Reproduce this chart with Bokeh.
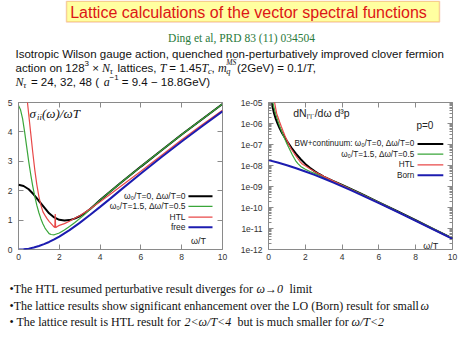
from bokeh.plotting import figure
from bokeh.layouts import column, row
from bokeh.models import (Range1d, FixedTicker, CustomJSTickFormatter, Label,
                          LinearAxis, BoxAnnotation, CustomLabelingPolicy)
from bokeh.embed import file_html
from bokeh.resources import INLINE

# ---------------- data: left panel  sigma_ii(omega)/(omega T) ----------------
x_black = [0, 0.25, 0.5, 0.75, 1.0, 1.25, 1.5, 1.75, 2.0, 2.25, 2.5, 2.75, 3.0,
           3.25, 3.5, 3.75, 4.0, 4.5, 5, 5.5, 6, 7, 8, 9, 10]
s_black = [2.20, 2.16, 2.05, 1.87, 1.65, 1.44, 1.23, 1.09, 1.01, 0.99, 1.00, 1.05, 1.13,
           1.24, 1.37, 1.52, 1.68, 1.97, 2.26, 2.54, 2.82, 3.37, 3.91, 4.43, 4.95]

x_green = [0, 0.1, 0.2, 0.3, 0.4, 0.5, 0.6, 0.7, 0.8, 0.9, 1.0, 1.1, 1.2, 1.3, 1.4,
           1.5, 1.6, 1.75, 2.0, 2.25, 2.5, 2.75, 3.0, 3.25, 3.5, 3.75, 4.0, 4.5, 5,
           5.5, 6, 7, 8, 9, 10]
s_green = [4.90, 4.75, 4.45, 4.00, 3.50, 3.00, 2.55, 2.15, 1.80, 1.50, 1.25, 1.04, 0.87,
           0.73, 0.63, 0.54, 0.51, 0.50, 0.56, 0.66, 0.78, 0.91, 1.05, 1.20, 1.36, 1.52,
           1.68, 1.97, 2.26, 2.54, 2.82, 3.37, 3.91, 4.43, 4.95]

x_htl = [0.3, 0.35, 0.4, 0.44, 0.5, 0.6, 0.7, 0.8, 0.9, 1.0, 1.1, 1.2, 1.3, 1.4, 1.5,
         1.6, 1.7, 1.78, 1.80, 1.82, 1.9, 2.0, 2.25, 2.5, 2.75, 3.0, 3.5, 4.0, 4.5, 5,
         6, 7, 8, 9, 10]
s_htl = [10.0, 8.0, 6.2, 5.0, 4.6, 3.95, 3.3, 2.7, 2.2, 1.8, 1.5, 1.28, 1.16, 1.05, 0.96,
         0.88, 0.80, 0.75, 1.21, 0.74, 0.78, 0.82, 0.88, 0.96, 1.06, 1.15, 1.38, 1.62,
         1.88, 2.14, 2.66, 3.20, 3.73, 4.24, 4.74]

x_free = [0, 0.25, 0.5, 0.75, 1.0, 1.25, 1.5, 1.75, 2.0, 2.5, 3.0, 3.5, 4.0, 4.5, 5,
          6, 7, 8, 9, 10]
s_free = [0, 0.007, 0.030, 0.067, 0.117, 0.181, 0.256, 0.343, 0.44, 0.66, 0.907, 1.173,
          1.45, 1.73, 2.02, 2.585, 3.137, 3.671, 4.19, 4.70]

# ---------------- data: right panel  dN/dω d^3p ----------------
xr_black = [0.15, 0.2, 0.3, 0.4, 0.5, 0.6, 0.75, 1.0, 1.25, 1.5, 1.75, 2.0, 2.25, 2.5,
            2.75, 3.0, 3.5, 4.0, 4.5, 5, 6, 7, 8, 9, 10]
r_black = [1.36e-5, 7.43e-6, 3.08e-6, 1.61e-6, 9.54e-7, 6.06e-7, 3.37e-7, 1.45e-7,
           6.98e-8, 3.56e-8, 1.98e-8, 1.19e-8, 7.83e-9, 5.40e-9, 3.94e-9, 2.98e-9,
           1.84e-9, 1.18e-9, 7.43e-10, 4.63e-10, 1.76e-10, 6.64e-11, 2.48e-11,
           9.17e-12, 3.39e-12]

xr_green = [0.2, 0.25, 0.3, 0.4, 0.5, 0.6, 0.7, 0.8, 0.9, 1.0, 1.1, 1.2, 1.3, 1.4, 1.5,
            1.6, 1.75, 2.0, 2.25, 2.5, 2.75, 3.0, 3.5, 4.0, 4.5, 5, 6, 7, 8, 9, 10]
r_green = [1.52e-5, 9.0e-6, 5.75e-6, 2.69e-6, 1.40e-6, 7.81e-7, 4.58e-7, 2.77e-7,
           1.72e-7, 1.10e-7, 7.12e-8, 4.72e-8, 3.18e-8, 2.22e-8, 1.56e-8, 1.22e-8,
           9.07e-9, 6.62e-9, 5.22e-9, 4.21e-9, 3.41e-9, 2.77e-9, 1.83e-9, 1.18e-9,
           7.43e-10, 4.63e-10, 1.76e-10, 6.64e-11, 2.48e-11, 9.17e-12, 3.39e-12]

xr_htl = [0.3, 0.35, 0.4, 0.44, 0.5, 0.6, 0.7, 0.8, 0.9, 1.0, 1.1, 1.2, 1.3, 1.4, 1.5,
          1.6, 1.7, 1.8, 1.9, 2.0, 2.25, 2.5, 2.75, 3.0, 3.5, 4.0, 5, 6, 7, 8, 9, 10]
r_htl = [1.44e-5, 8.24e-6, 4.76e-6, 3.10e-6, 2.14e-6, 1.21e-6, 7.02e-7, 4.16e-7,
         2.53e-7, 1.58e-7, 1.03e-7, 6.94e-8, 5.05e-8, 3.71e-8, 2.78e-8, 2.10e-8,
         1.59e-8, 1.25e-8, 1.09e-8, 9.69e-9, 6.96e-9, 5.18e-9, 3.97e-9, 3.03e-9,
         1.85e-9, 1.14e-9, 4.38e-10, 1.66e-10, 6.30e-11, 2.36e-11, 8.78e-12, 3.25e-12]

xr_born = [0, 0.5, 1, 1.5, 2, 2.5, 3, 3.5, 4, 4.5, 5, 6, 7, 8, 9, 10]
r_born = [1.8e-8, 1.38e-8, 1.03e-8, 7.41e-9, 5.21e-9, 3.57e-9, 2.40e-9, 1.58e-9,
          1.02e-9, 6.55e-10, 4.14e-10, 1.62e-10, 6.19e-11, 2.33e-11, 8.69e-12, 3.22e-12]

left_labels = ["ω₀/T=0, Δω/T=0", "ω₀/T=1.5, Δω/T=0.5", "HTL", "free"]
right_labels = ["BW+continuum: ω₀/T=0, Δω/T=0", "ω₀/T=1.5, Δω/T=0.5", "HTL", "Born"]
x_ticks = [0, 2, 4, 6, 8, 10]
y_ticks_lin = [0, 1, 2, 3, 4, 5]
y_ticks_log = [1e-12, 1e-11, 1e-10, 1e-9, 1e-8, 1e-7, 1e-6, 1e-5]

# ---------------- styles ----------------
SANS = "Liberation Sans"
SERIF = "Liberation Serif"
C_BLACK, C_GREEN, C_RED, C_BLUE = "#000000", "#3aa63a", "#e84848", "#1c1cb0"
COLORS = [C_BLACK, C_GREEN, C_RED, C_BLUE]
WIDTHS = [2.0, 1.2, 1.2, 2.0]
FRAME = "#8a8a8a"


def lab(fig, x, y, text, size, font=SANS, style="normal", color="#111111",
        align="left", baseline="middle", xo=0, yo=0):
    fig.add_layout(Label(x=x, y=y, text=text, text_font=font,
                         text_font_size=f"{size}px", text_font_style=style,
                         text_color=color, text_align=align,
                         text_baseline=baseline, x_offset=xo, y_offset=yo))


def style_axes(fig, xt, yt, minor_y=None):
    fig.xgrid.visible = False
    fig.ygrid.visible = False
    fig.outline_line_color = FRAME
    fig.outline_line_width = 1
    for ax in (fig.xaxis, fig.yaxis):
        ax.axis_line_color = None
        ax.major_tick_in = 5
        ax.major_tick_out = 0
        ax.minor_tick_out = 0
        ax.major_tick_line_color = FRAME
        ax.major_label_text_font = SANS
        ax.major_label_text_font_size = "8.5px"
        ax.major_label_text_color = "#333333"
    fig.xaxis.ticker = FixedTicker(ticks=xt)
    fig.xaxis.minor_tick_line_color = None
    fig.xaxis.major_label_standoff = 4
    fig.yaxis.ticker = FixedTicker(ticks=yt, minor_ticks=minor_y or [])
    fig.yaxis.major_label_standoff = 6
    if minor_y:
        fig.yaxis.minor_tick_in = 3
        fig.yaxis.minor_tick_line_color = FRAME
    else:
        fig.yaxis.minor_tick_line_color = None
    # mirrored ticks (gnuplot style), drawn without any labels
    for side, ticks, mn in (("above", xt, None), ("right", yt, minor_y)):
        ax = LinearAxis(ticker=FixedTicker(ticks=ticks, minor_ticks=mn or []),
                        major_label_policy=CustomLabelingPolicy(code="return []"),
                        major_label_text_font_size="1px", major_label_standoff=0,
                        major_tick_in=5, major_tick_out=0,
                        minor_tick_in=3 if mn else 0, minor_tick_out=0,
                        axis_line_color=None, major_tick_line_color=FRAME,
                        minor_tick_line_color=FRAME if mn else None)
        fig.add_layout(ax, side)


# ---------------- header ----------------
hd = figure(width=458, height=94, x_range=Range1d(0, 458), y_range=Range1d(94, 0),
            x_axis_type=None, y_axis_type=None, output_backend="svg",
            toolbar_location=None, min_border=0, outline_line_color=None)
hd.add_layout(BoxAnnotation(left=66, right=439, top=0.8, bottom=21.5,
                            fill_color="#ffffa0", fill_alpha=1,
                            line_color="#e0602a", line_width=1.5))
lab(hd, 248, 11.5, "Lattice calculations of the vector spectral functions", 16,
    color="#dd1515", align="center")
lab(hd, 241, 37, "Ding et al, PRD 83 (11) 034504", 11.5, font=SERIF,
    color="#2b7a3b", align="center")
lab(hd, 15, 53, "Isotropic Wilson gauge action, quenched non-perturbatively improved clover fermion", 11.5)
# line 2
y2 = 67
lab(hd, 15, y2, "action on 128", 11.5)
lab(hd, 84, y2 - 4, "3", 8)
lab(hd, 91.7, y2, "×", 11.5)
lab(hd, 101.6, y2, "N", 12, font=SERIF, style="italic")
lab(hd, 109.3, y2 + 3, "τ", 8.5, font=SERIF, style="italic")
lab(hd, 117, y2, "lattices,", 11.5)
lab(hd, 159.2, y2, "T", 12, font=SERIF, style="italic")
lab(hd, 168.8, y2, "= 1.45", 11.5)
lab(hd, 201.1, y2, "T", 12, font=SERIF, style="italic")
lab(hd, 207.5, y2 + 3, "c", 8.5, font=SERIF, style="italic")
lab(hd, 211.1, y2, ",", 11.5)
lab(hd, 217.5, y2, "m", 12, font=SERIF, style="italic")
lab(hd, 225.8, y2 + 3, "q", 8.5, font=SERIF, style="italic")
lab(hd, 225.8, y2 - 5, "MS", 7.5, font=SERIF, style="italic")
lab(hd, 236.5, y2, "(2GeV) = 0.1/", 11.5)
lab(hd, 305.9, y2, "T", 12, font=SERIF, style="italic")
lab(hd, 312.3, y2, ",", 11.5)
# line 3
y3 = 81
lab(hd, 15, y3, "N", 12, font=SERIF, style="italic")
lab(hd, 22.7, y3 + 3, "τ", 8.5, font=SERIF, style="italic")
lab(hd, 30.4, y3, "= 24, 32, 48 (", 11.5)
lab(hd, 103.2, y3, "a", 12, font=SERIF, style="italic")
lab(hd, 109, y3 - 4, "−1", 8)
lab(hd, 121.3, y3, "= 9.4 − 18.8GeV)", 11.5)

# ---------------- left panel ----------------
pl = figure(width=237, height=173, x_range=Range1d(0, 10), y_range=Range1d(0, 5),
            output_backend="svg", toolbar_location=None,
            min_border_left=18, min_border_right=15, min_border_top=8,
            min_border_bottom=18)
style_axes(pl, x_ticks, y_ticks_lin)
pl.line(x_black, s_black, line_color=C_BLACK, line_width=2.0)
pl.line(x_green, s_green, line_color=C_GREEN, line_width=1.2)
pl.line(x_htl, s_htl, line_color=C_RED, line_width=1.2)
pl.line(x_free, s_free, line_color=C_BLUE, line_width=2.0)

ly = [1.81, 1.47, 1.10, 0.76]
pl.segment(x0=[8.33] * 4, y0=ly, x1=[9.51] * 4, y1=ly, line_color=COLORS,
           line_width=WIDTHS)
for t, yy in zip(left_labels, ly):
    lab(pl, 8.19, yy, t, 8.5, align="right", color="#222222")
lab(pl, 8.82, 0.28, "ω/T", 9, align="center", color="#222222")
lab(pl, 0.54, 4.62, "σ", 13, font=SERIF, style="italic")
lab(pl, 0.54, 4.62, "ii", 8.5, font=SERIF, style="italic", xo=7.5, yo=-3)
lab(pl, 0.54, 4.62, "(ω)/ωT", 13, font=SERIF, style="italic", xo=12.5)

# ---------------- right panel ----------------
minor_log = [m * t for t in y_ticks_log[:-1] for m in range(2, 10)]
pr = figure(width=221, height=173, x_range=Range1d(0, 10),
            y_range=Range1d(1e-12, 1e-5), y_axis_type="log",
            output_backend="svg", toolbar_location=None,
            min_border_left=30, min_border_right=5, min_border_top=8,
            min_border_bottom=17)
style_axes(pr, x_ticks, y_ticks_log, minor_y=minor_log)
pr.yaxis.formatter = CustomJSTickFormatter(code="""
const e = Math.round(Math.log10(tick));
const a = Math.abs(e);
return '1e' + (e < 0 ? '-' : '+') + (a < 10 ? '0' + a : '' + a);
""")
pr.line(xr_black, r_black, line_color=C_BLACK, line_width=2.0)
pr.line(xr_green, r_green, line_color=C_GREEN, line_width=1.2)
pr.line(xr_htl, r_htl, line_color=C_RED, line_width=1.2)
pr.line(xr_born, r_born, line_color=C_BLUE, line_width=2.0)

ry = [1.07e-7, 3.47e-8, 1.07e-8, 3.39e-9]
pr.segment(x0=[8.10] * 4, y0=ry, x1=[9.50] * 4, y1=ry, line_color=COLORS,
           line_width=WIDTHS)
for t, yy in zip(right_labels, ry):
    lab(pr, 7.92, yy, t, 8.2, align="right", color="#222222")
lab(pr, 8.5, 8.13e-7, "p=0", 10, align="center", color="#222222")
lab(pr, 8.82, 1.55e-12, "ω/T", 9, align="center", color="#222222")
lab(pr, 1.34, 3.09e-6, "dN", 10.5, color="#222222")
lab(pr, 1.34, 3.09e-6, "l⁺l⁻", 7, color="#222222", xo=13.5, yo=-3)
lab(pr, 1.34, 3.09e-6, "/dω d³p", 10.5, color="#222222", xo=21.5)

# ---------------- bullets ----------------
bt = figure(width=458, height=72, x_range=Range1d(0, 458), y_range=Range1d(72, 0),
            x_axis_type=None, y_axis_type=None, output_backend="svg",
            toolbar_location=None, min_border=0, outline_line_color=None)
FS = 12
lab(bt, 9, 21, "•The HTL resumed perturbative result diverges for", FS, font=SERIF)
lab(bt, 256, 21, "ω→0", FS, font=SERIF, style="italic")
lab(bt, 289, 21, "limit", FS, font=SERIF)
lab(bt, 9, 38, "•The lattice results show significant enhancement over the LO (Born) result for small", FS, font=SERIF)
lab(bt, 420, 38, "ω", FS, font=SERIF, style="italic")
lab(bt, 9, 54, "• The lattice result is HTL result for", FS, font=SERIF)
lab(bt, 184, 54, "2<ω/T<4", FS, font=SERIF, style="italic")
lab(bt, 237, 54, "but is much smaller for", FS, font=SERIF)
lab(bt, 351, 54, "ω/T<2", FS, font=SERIF, style="italic")

layout = column(hd, row(pl, pr), bt)
open("out.html", "w").write(file_html(layout, INLINE))
